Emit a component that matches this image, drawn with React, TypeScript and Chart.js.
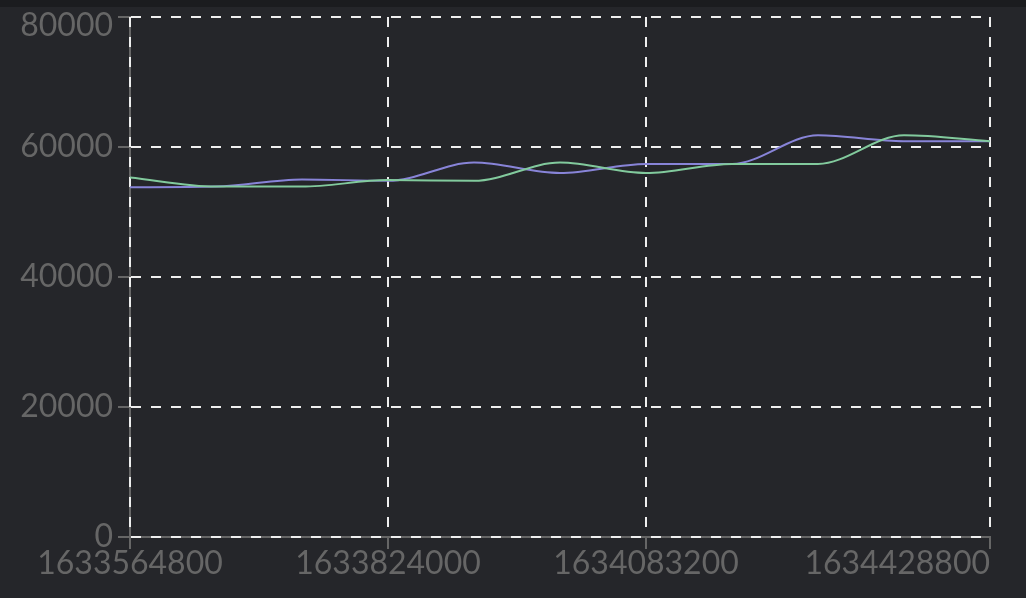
import { useEffect, useRef } from 'react';
import Chart from 'chart.js/auto';

// daily points, unix seconds
const timestamps = [
  1633564800, 1633651200, 1633737600, 1633824000, 1633910400, 1633996800,
  1634083200, 1634169600, 1634256000, 1634342400, 1634428800,
];
const closeValues = [53800, 53900, 55000, 54800, 57600, 56000, 57400, 57400, 61800, 60900, 60900];
const openValues = [55300, 53900, 53900, 54900, 54800, 57600, 56000, 57400, 57400, 61800, 60900];

const xTickValues = [1633564800, 1633824000, 1634083200, 1634428800];
const yTickValues = [0, 20000, 40000, 60000, 80000];

const AXIS_GRAY = '#666666';
const GRID_WHITE = '#eeeeee';
const PAGE_BG = '#25262a';
const STRIP_BG = '#1b1c1f';

export default function App() {
  const chartRef = useRef<HTMLCanvasElement>(null);

  useEffect(() => {
    if (!chartRef.current) return;

    const yMax = yTickValues[yTickValues.length - 1];

    const chart = new Chart(chartRef.current, {
      type: 'line',
      data: {
        datasets: [
          {
            label: 'open',
            data: timestamps.map((t, i) => ({ x: t, y: openValues[i] })),
            borderColor: '#82ca9d',
            borderWidth: 2,
            fill: false,
            cubicInterpolationMode: 'monotone',
            pointRadius: 0,
          },
          {
            label: 'close',
            data: timestamps.map((t, i) => ({ x: t, y: closeValues[i] })),
            borderColor: '#8884d8',
            borderWidth: 2,
            fill: false,
            cubicInterpolationMode: 'monotone',
            pointRadius: 0,
          },
        ],
      },
      options: {
        animation: false,
        responsive: false,
        layout: { padding: { top: 17, right: 36, bottom: 19, left: 20 } },
        plugins: {
          legend: { display: false },
          tooltip: { enabled: false },
        },
        scales: {
          x: {
            type: 'linear',
            min: timestamps[0],
            max: timestamps[timestamps.length - 1],
            // first tick doubled so 'inner' only left-aligns an empty label
            afterBuildTicks: (scale: any) => {
              scale.ticks = [xTickValues[0], ...xTickValues].map((value) => ({ value }));
            },
            ticks: {
              autoSkip: false,
              align: 'inner',
              maxRotation: 0,
              padding: 0,
              color: AXIS_GRAY,
              font: { family: 'Lato', size: 32, lineHeight: 0.94 },
              callback: (value: any, index: number) => (index === 0 ? '' : String(value)),
            },
            grid: {
              color: GRID_WHITE,
              lineWidth: 2,
              tickLength: 12,
              tickColor: AXIS_GRAY,
              tickWidth: 2,
              tickBorderDash: [],
            },
            border: { display: true, color: AXIS_GRAY, width: 2, dash: [10, 10], z: -2 },
          },
          y: {
            min: 0,
            max: yMax,
            afterBuildTicks: (scale: any) => {
              scale.ticks = yTickValues.map((value) => ({ value }));
            },
            afterFit: (scale: any) => {
              scale.width = 110;
              scale.paddingTop = 0;
            },
            ticks: {
              padding: 5,
              color: AXIS_GRAY,
              // top label sits a bit lower, kept inside the canvas
              font: (ctx: any) =>
                ctx.tick && ctx.tick.value === yMax
                  ? { family: 'Lato', size: 32, lineHeight: '17px' }
                  : { family: 'Lato', size: 32 },
              callback: (value: any) => (value === yMax ? ['', String(value)] : String(value)),
            },
            grid: {
              color: GRID_WHITE,
              lineWidth: 2,
              tickLength: 12,
              tickColor: AXIS_GRAY,
              tickWidth: 2,
              tickBorderDash: [],
            },
            border: { display: true, color: AXIS_GRAY, width: 2, dash: [10, 10], z: -2 },
          },
        },
      },
    } as any);

    // borders sit under the dashed grid; they need the grid pass done once first
    chart.draw();

    return () => {
      chart.destroy();
    };
  }, []);

  return (
    <div style={{ position: 'fixed', inset: 0, background: PAGE_BG }}>
      <div style={{ position: 'absolute', left: 0, top: 0, width: '100%', height: 7, background: STRIP_BG }} />
      <canvas
        ref={chartRef}
        width={1026}
        height={598}
        style={{ position: 'absolute', left: 0, top: 0 }}
      />
    </div>
  );
}
